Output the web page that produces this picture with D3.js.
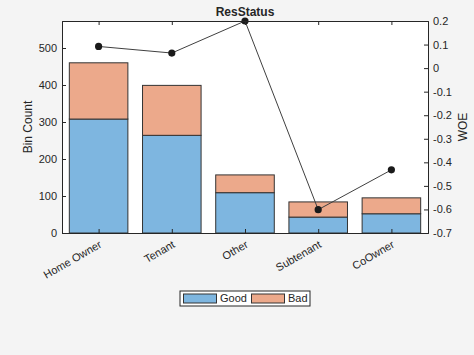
<!DOCTYPE html>
<html><head><meta charset="utf-8">
<script src="https://cdn.jsdelivr.net/npm/d3@7"></script>
<style>
body{margin:0;background:#f4f4f4;}
svg{display:block;}
text{font-family:"Liberation Sans",Arial,sans-serif;fill:#262626;}
</style></head>
<body>
<svg id="chart" width="474" height="355"></svg>
<script>
const categories = ["Home Owner","Tenant","Other","Subtenant","CoOwner"];
const goodCounts = [308, 264, 109, 43, 52];
const badCounts = [152, 135, 48, 41, 43];
const woeValues = [0.092, 0.064, 0.2, -0.601, -0.432];
const leftTicks = [0,100,200,300,400,500];
const rightTicks = [0.2,0.1,0,-0.1,-0.2,-0.3,-0.4,-0.5,-0.6,-0.7];
const seriesNames = ["Good","Bad"];
const seriesColors = ["#7eb6e0","#eca98b"];

(function(){
const W=474,H=355;
const m={l:62,r:46,t:21,b:122};
const pw=W-m.l-m.r, ph=H-m.t-m.b;
const svg=d3.select("#chart");
svg.append("rect").attr("width",W).attr("height",H).attr("fill","#f4f4f4");
const g=svg.append("g").attr("transform",`translate(${m.l},${m.t})`);
g.append("rect").attr("width",pw).attr("height",ph).attr("fill","#fff");

const x=d3.scaleLinear().domain([0.5,categories.length+0.5]).range([0,pw]);
const y=d3.scaleLinear().domain([0,573]).range([ph,0]);
const y2=d3.scaleLinear().domain([-0.7,0.2]).range([ph,0]);
const bw=(x(1)-x(0))*0.8;

const stackData=categories.map((c,i)=>({cat:c,i:i,Good:goodCounts[i],Bad:badCounts[i]}));
const stack=d3.stack().keys(seriesNames)(stackData);
stack.forEach((layer,k)=>{
  g.selectAll(null).data(layer).enter().append("rect")
   .attr("x",d=>x(d.data.i+1)-bw/2).attr("width",bw)
   .attr("y",d=>y(d[1])).attr("height",d=>y(d[0])-y(d[1]))
   .attr("fill",seriesColors[k]).attr("stroke","#333").attr("stroke-width",1);
});

const line=d3.line().x((d,i)=>x(i+1)).y(d=>y2(d));
g.append("path").datum(woeValues).attr("d",line).attr("fill","none").attr("stroke","#404040").attr("stroke-width",1);
g.selectAll(null).data(woeValues).enter().append("circle")
 .attr("cx",(d,i)=>x(i+1)).attr("cy",d=>y2(d)).attr("r",3.6).attr("fill","#1a1a1a");

const ac="#262626";
const fs="11px";
const xt=d3.range(1,categories.length+1);
const axB=g.append("g").attr("transform",`translate(0,${ph})`).call(d3.axisBottom(x).tickValues(xt).tickSize(-4).tickFormat(()=>""));
const axT=g.append("g").call(d3.axisTop(x).tickValues(xt).tickSize(-4).tickFormat(()=>""));
const axL=g.append("g").call(d3.axisLeft(y).tickValues(leftTicks).tickSize(-4).tickPadding(5));
const axR=g.append("g").attr("transform",`translate(${pw},0)`).call(d3.axisRight(y2).tickValues(rightTicks).tickSize(-4).tickPadding(5).tickFormat(d=>String(+d.toFixed(1))));
[axB,axT,axL,axR].forEach(a=>{
  a.select(".domain").attr("stroke",ac);
  a.selectAll(".tick line").attr("stroke",ac);
  a.selectAll("text").style("font-size",fs).attr("fill",ac).style("font-family","Liberation Sans, Arial, sans-serif");
});
g.selectAll(null).data(categories).enter().append("text")
 .attr("transform",(d,i)=>`translate(${x(i+1)},${ph+7}) rotate(-30)`)
 .attr("text-anchor","end").attr("dy","0.7em").style("font-size",fs).text(d=>d);

svg.append("text").attr("x",m.l+pw/2).attr("y",15.5).attr("text-anchor","middle")
 .style("font-size","12px").style("font-weight","bold").text("ResStatus");
svg.append("text").attr("transform",`translate(32,${m.t+ph/2}) rotate(-90)`).attr("text-anchor","middle")
 .style("font-size","12px").text("Bin Count");
svg.append("text").attr("transform",`translate(463,${m.t+ph/2}) rotate(-90)`).attr("text-anchor","middle")
 .attr("dy","0.35em").style("font-size","12px").text("WOE");

const lg=svg.append("g").attr("transform","translate(180,291)");
lg.append("rect").attr("width",130).attr("height",15).attr("fill","#fff").attr("stroke","#262626").attr("stroke-width",1);
const items=[{x:3.5,tx:40},{x:71.5,tx:108}];
seriesNames.forEach((s,k)=>{
  lg.append("rect").attr("x",items[k].x).attr("y",3).attr("width",33).attr("height",9)
   .attr("fill",seriesColors[k]).attr("stroke","#333");
  lg.append("text").attr("x",items[k].tx).attr("y",7.5).attr("dy","0.35em").style("font-size","11px").text(s);
});
})();
</script>
</body></html>
